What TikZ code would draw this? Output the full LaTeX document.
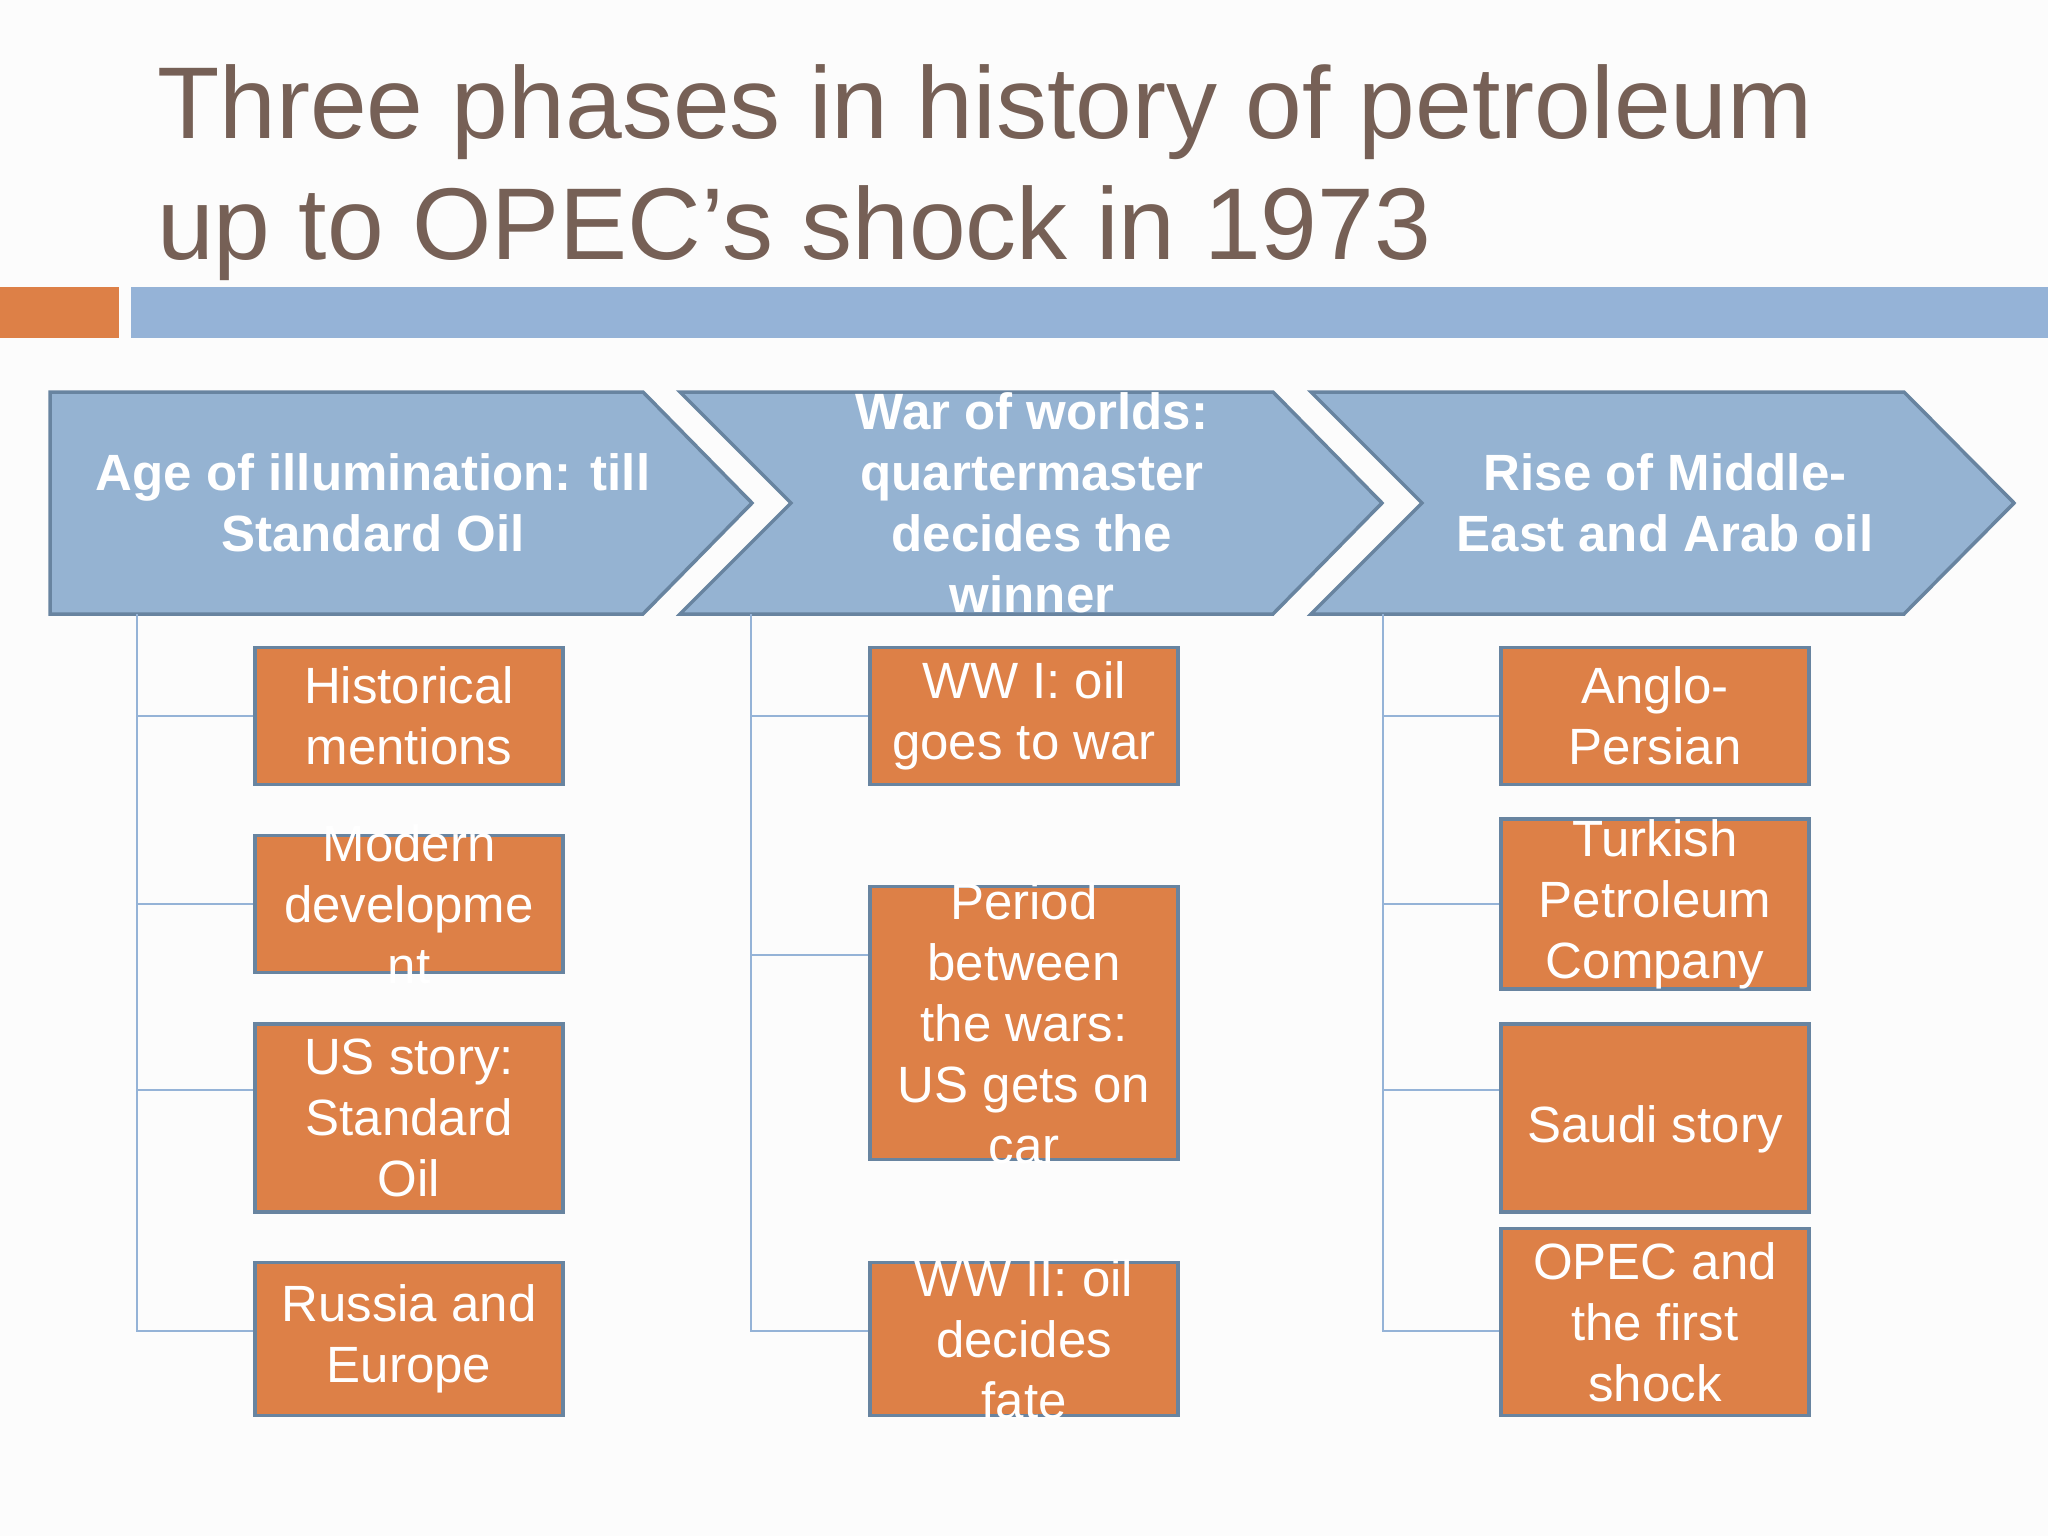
\documentclass[tikz,border=0pt]{standalone}
\usepackage{fontspec}
\setmainfont{Liberation Sans}
\definecolor{titlec}{RGB}{118,96,86}
\definecolor{chfill}{RGB}{149,179,210}
\definecolor{chline}{RGB}{104,132,160}
\definecolor{orfill}{RGB}{221,128,71}
\definecolor{conn}{RGB}{149,179,215}
\newcommand\lnstrut{\rule{0pt}{59pt}}
\tikzset{
  chev/.style={fill=chfill,draw=chline,line width=3.5pt,line join=miter},
  chtext/.style={text=white,font=\fontsize{51}{61}\selectfont\bfseries,align=center,inner sep=0pt,
    execute at begin node=\lnstrut,execute at end node=\lnstrut},
  obox/.style={fill=orfill,draw=chline,line width=3.5pt,inner sep=0pt},
  btext/.style={text=white,font=\fontsize{51}{61}\selectfont,align=center,inner sep=0pt,
    execute at begin node=\lnstrut,execute at end node=\lnstrut},
  link/.style={draw=conn,line width=2.5pt}
}
\begin{document}
\begin{tikzpicture}[x=1pt,y=-1pt]
\useasboundingbox (0,0) rectangle (2048,1536);
\fill[white!99!black] (0,0) rectangle (2048,1536);
% title
\node[text=titlec,font=\fontsize{102}{121}\selectfont,align=left,anchor=base west,inner sep=0pt] (title) at (157,259) {Three phases in history of petroleum\\up to OPEC’s shock in 1973};
% bars
\fill[orfill] (0,287) rectangle (119,338);
\fill[conn] (131,287) rectangle (2048,338);
% chevrons
\draw[chev] (50,392) -- (643,392) -- (752,503) -- (643,614) -- (50,614) -- cycle;
\draw[chev] (680,392) -- (1273,392) -- (1382,503) -- (1273,614) -- (680,614) -- (791,503) -- cycle;
\draw[chev] (1311,392) -- (1904,392) -- (2014,503) -- (1904,614) -- (1311,614) -- (1422,503) -- cycle;
\node[chtext] (p1) at (373,503) {Age of illumination: till\\Standard Oil};
\node[chtext] (p2) at (1032,503) {War of worlds:\\quartermaster\\decides the\\winner};
\node[chtext] (p3) at (1665,503) {Rise of Middle-\\East and Arab oil};
\coordinate (t1) at (137,614);
\coordinate (t2) at (751,614);
\coordinate (t3) at (1383,614);
% boxes column 1
\node[obox,minimum width=308pt,minimum height=137pt] (a1) at (409,716) {};
\node[obox,minimum width=308pt,minimum height=137pt] (a2) at (409,904) {};
\node[obox,minimum width=308pt,minimum height=188pt] (a3) at (409,1118) {};
\node[obox,minimum width=308pt,minimum height=153pt] (a4) at (409,1339) {};
% boxes column 2
\node[obox,minimum width=308pt,minimum height=137pt] (b1) at (1024,716) {};
\node[obox,minimum width=308pt,minimum height=273pt] (b2) at (1024,1023) {};
\node[obox,minimum width=308pt,minimum height=153pt] (b3) at (1024,1339) {};
% boxes column 3
\node[obox,minimum width=308pt,minimum height=137pt] (c1) at (1655,716) {};
\node[obox,minimum width=308pt,minimum height=170pt] (c2) at (1655,904) {};
\node[obox,minimum width=308pt,minimum height=188pt] (c3) at (1655,1118) {};
\node[obox,minimum width=308pt,minimum height=187pt] (c4) at (1655,1322) {};
% connectors
\draw[link] (t1) |- (a4.west |- 0,1331);
\draw[link] (t1 |- a1.west) -- (a1.west);
\draw[link] (t1 |- a2.west) -- (a2.west);
\draw[link] (t1 |- 0,1090) -- (a3.west |- 0,1090);
\draw[link] (t2) |- (b3.west |- 0,1331);
\draw[link] (t2 |- b1.west) -- (b1.west);
\draw[link] (t2 |- 0,955) -- (b2.west |- 0,955);
\draw[link] (t3) |- (c4.west |- 0,1331);
\draw[link] (t3 |- c1.west) -- (c1.west);
\draw[link] (t3 |- c2.west) -- (c2.west);
\draw[link] (t3 |- 0,1090) -- (c3.west |- 0,1090);
% box texts
\node[btext] (a1t) at (a1) {Historical\\mentions};
\node[btext] (a2t) at (a2) {Modern\\developme\\nt};
\node[btext] (a3t) at (a3) {US story:\\Standard\\Oil};
\node[btext] (a4t) at (a4) {Russia and\\Europe};
\node[btext] (b1t) at (b1) {WW I: oil\\goes to war};
\node[btext] (b2t) at (b2) {Period\\between\\the wars:\\US gets on\\car};
\node[btext] (b3t) at (b3) {WW II: oil\\decides\\fate};
\node[btext] (c1t) at (c1) {Anglo-\\Persian};
\node[btext] (c2t) at (c2) {Turkish\\Petroleum\\Company};
\node[btext] (c3t) at (c3) {Saudi story};
\node[btext] (c4t) at (c4) {OPEC and\\the first\\shock};
\end{tikzpicture}
\end{document}
